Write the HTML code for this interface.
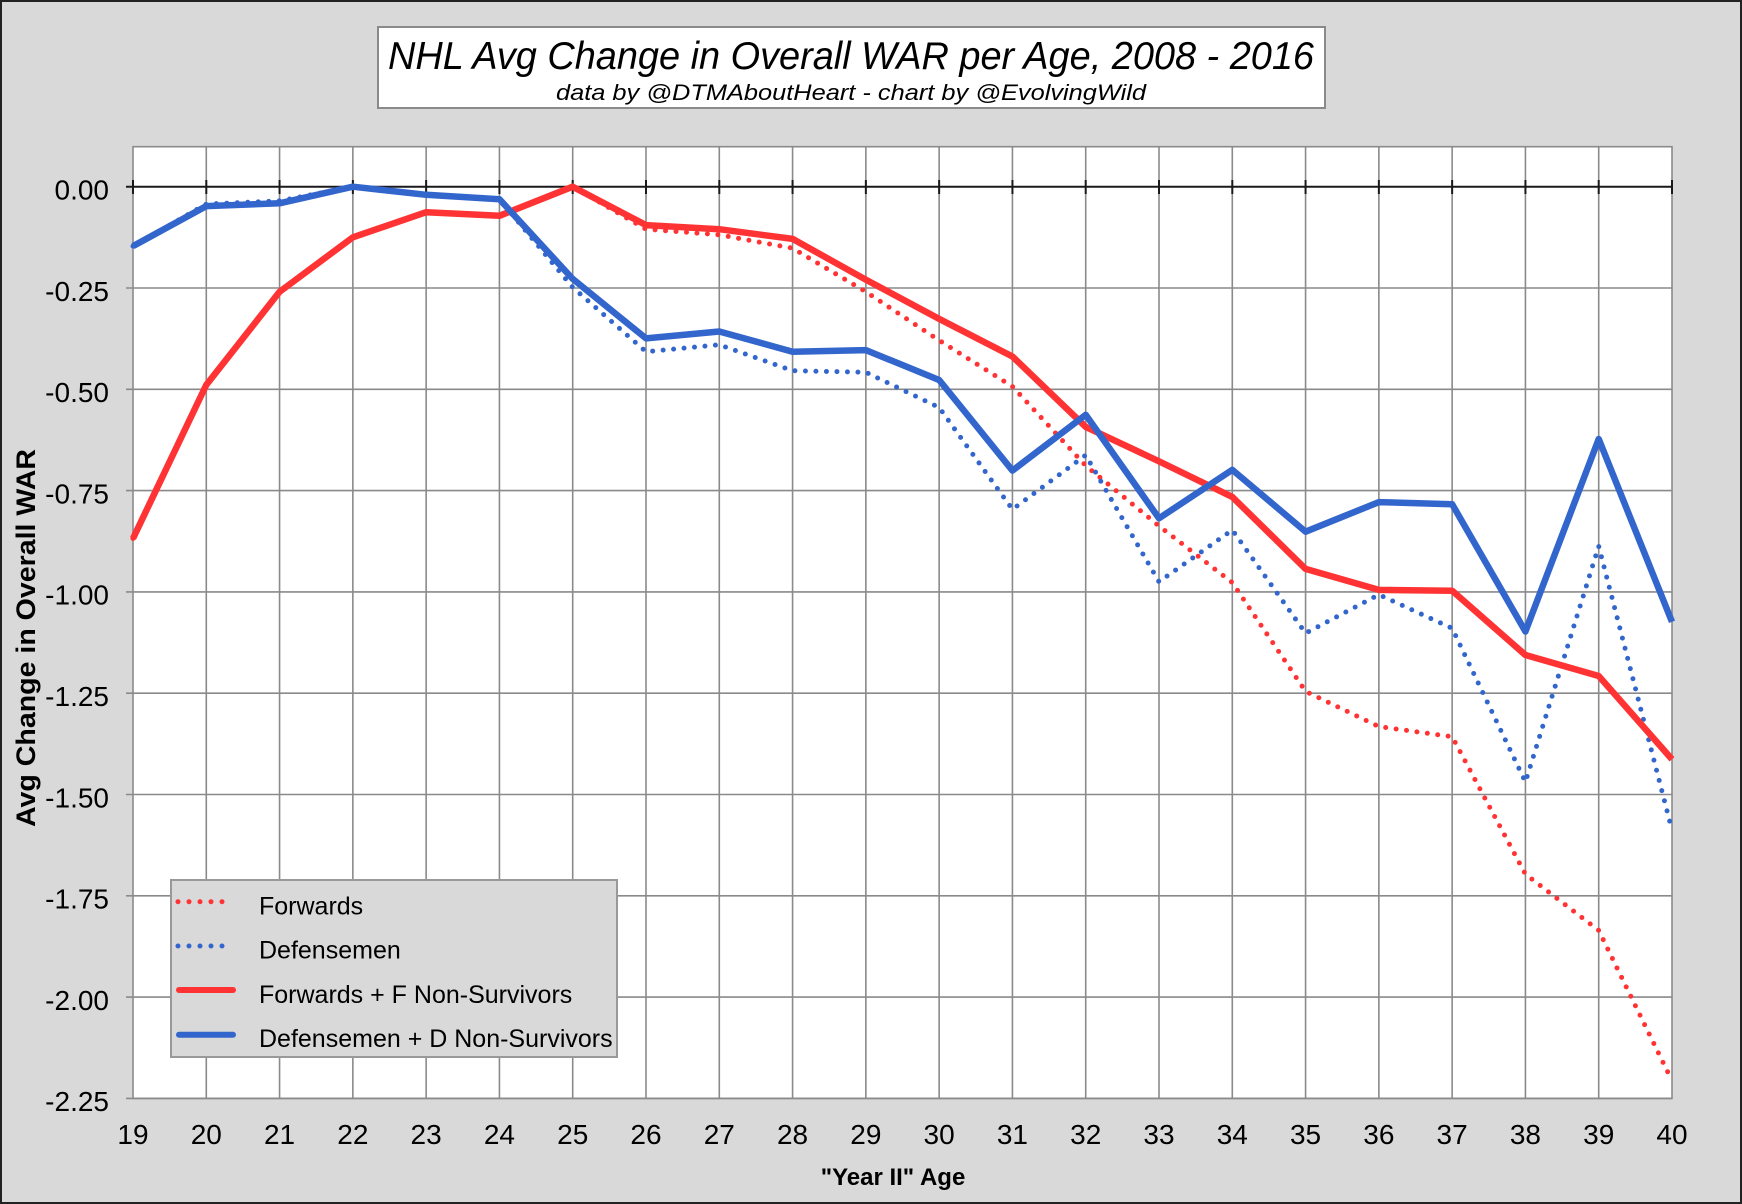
<!DOCTYPE html>
<html><head><meta charset="utf-8"><style>
html,body{margin:0;padding:0;background:#d9d9d9;}
svg{display:block;}
text{font-family:"Liberation Sans",Arial,sans-serif;fill:#000;}
</style></head><body>
<svg width="1742" height="1204" viewBox="0 0 1742 1204" xmlns="http://www.w3.org/2000/svg">
<rect x="1" y="1" width="1740" height="1202" fill="#d9d9d9" stroke="#222" stroke-width="2"/>
<!-- title box -->
<rect x="378" y="27" width="947" height="81" fill="#fff" stroke="#8a8a8a" stroke-width="2"/>
<text x="851" y="69" text-anchor="middle" font-size="39" font-style="italic" textLength="926" lengthAdjust="spacingAndGlyphs">NHL Avg Change in Overall WAR per Age, 2008 - 2016</text>
<text x="851" y="100" text-anchor="middle" font-size="22" font-style="italic" textLength="590" lengthAdjust="spacingAndGlyphs">data by @DTMAboutHeart  -  chart by @EvolvingWild</text>
<!-- plot area -->
<rect x="133" y="146.7" width="1539" height="951.7" fill="#fff"/>
<g stroke="#8a8a8a" stroke-width="1.6">
<line x1="206.29" y1="146.7" x2="206.29" y2="1098.4"/>
<line x1="279.57" y1="146.7" x2="279.57" y2="1098.4"/>
<line x1="352.86" y1="146.7" x2="352.86" y2="1098.4"/>
<line x1="426.14" y1="146.7" x2="426.14" y2="1098.4"/>
<line x1="499.43" y1="146.7" x2="499.43" y2="1098.4"/>
<line x1="572.71" y1="146.7" x2="572.71" y2="1098.4"/>
<line x1="646" y1="146.7" x2="646" y2="1098.4"/>
<line x1="719.29" y1="146.7" x2="719.29" y2="1098.4"/>
<line x1="792.57" y1="146.7" x2="792.57" y2="1098.4"/>
<line x1="865.86" y1="146.7" x2="865.86" y2="1098.4"/>
<line x1="939.14" y1="146.7" x2="939.14" y2="1098.4"/>
<line x1="1012.43" y1="146.7" x2="1012.43" y2="1098.4"/>
<line x1="1085.71" y1="146.7" x2="1085.71" y2="1098.4"/>
<line x1="1159" y1="146.7" x2="1159" y2="1098.4"/>
<line x1="1232.29" y1="146.7" x2="1232.29" y2="1098.4"/>
<line x1="1305.57" y1="146.7" x2="1305.57" y2="1098.4"/>
<line x1="1378.86" y1="146.7" x2="1378.86" y2="1098.4"/>
<line x1="1452.14" y1="146.7" x2="1452.14" y2="1098.4"/>
<line x1="1525.43" y1="146.7" x2="1525.43" y2="1098.4"/>
<line x1="1598.71" y1="146.7" x2="1598.71" y2="1098.4"/>
<line x1="126" y1="288" x2="1672" y2="288"/>
<line x1="126" y1="389.3" x2="1672" y2="389.3"/>
<line x1="126" y1="490.6" x2="1672" y2="490.6"/>
<line x1="126" y1="591.9" x2="1672" y2="591.9"/>
<line x1="126" y1="693.2" x2="1672" y2="693.2"/>
<line x1="126" y1="794.5" x2="1672" y2="794.5"/>
<line x1="126" y1="895.8" x2="1672" y2="895.8"/>
<line x1="126" y1="997.1" x2="1672" y2="997.1"/>
<line x1="126" y1="1098.4" x2="1672" y2="1098.4"/>
<rect x="133" y="146.7" width="1539" height="951.7" fill="none"/>
</g>
<!-- zero line and ticks -->
<g stroke="#1a1a1a" stroke-width="2">
<line x1="126" y1="186.7" x2="1672" y2="186.7"/>
<line x1="133" y1="180" x2="133" y2="194"/>
<line x1="206.29" y1="180" x2="206.29" y2="194"/>
<line x1="279.57" y1="180" x2="279.57" y2="194"/>
<line x1="352.86" y1="180" x2="352.86" y2="194"/>
<line x1="426.14" y1="180" x2="426.14" y2="194"/>
<line x1="499.43" y1="180" x2="499.43" y2="194"/>
<line x1="572.71" y1="180" x2="572.71" y2="194"/>
<line x1="646" y1="180" x2="646" y2="194"/>
<line x1="719.29" y1="180" x2="719.29" y2="194"/>
<line x1="792.57" y1="180" x2="792.57" y2="194"/>
<line x1="865.86" y1="180" x2="865.86" y2="194"/>
<line x1="939.14" y1="180" x2="939.14" y2="194"/>
<line x1="1012.43" y1="180" x2="1012.43" y2="194"/>
<line x1="1085.71" y1="180" x2="1085.71" y2="194"/>
<line x1="1159" y1="180" x2="1159" y2="194"/>
<line x1="1232.29" y1="180" x2="1232.29" y2="194"/>
<line x1="1305.57" y1="180" x2="1305.57" y2="194"/>
<line x1="1378.86" y1="180" x2="1378.86" y2="194"/>
<line x1="1452.14" y1="180" x2="1452.14" y2="194"/>
<line x1="1525.43" y1="180" x2="1525.43" y2="194"/>
<line x1="1598.71" y1="180" x2="1598.71" y2="194"/>
<line x1="1672" y1="180" x2="1672" y2="194"/>
</g>
<!-- series -->
<g fill="none" stroke-linejoin="round">
<polyline stroke="#ff3333" stroke-width="5" stroke-linecap="round" stroke-dasharray="0 10.5" points="133,538.5 206.29,384.9 279.57,291.8 352.86,237.3 426.14,212.2 499.43,215.8 572.71,186.7 646,229.2 719.29,234.8 792.57,248.2 865.86,291.8 939.14,340.4 1012.43,386.5 1085.71,465.7 1159,526 1232.29,582.6 1305.57,691.4 1378.86,726.6 1452.14,736.7 1525.43,874.2 1598.71,930.4 1672,1080.8"/>
<polyline stroke="#3366cc" stroke-width="5" stroke-linecap="round" stroke-dasharray="0 10.5" points="133,246.1 206.29,204.1 279.57,200.9 352.86,186.7 426.14,194.8 499.43,199.2 572.71,287.4 646,351.7 719.29,344.8 792.57,370.7 865.86,372.3 939.14,407.5 1012.43,509.4 1085.71,455.2 1159,581.8 1232.29,530 1305.57,633.2 1378.86,594.7 1452.14,628.3 1525.43,782 1598.71,546.2 1672,830.1"/>
<polyline stroke="#ff3333" stroke-width="6.5" points="133,538.5 206.29,384.9 279.57,291.8 352.86,237.3 426.14,212.2 499.43,215.8 572.71,186.7 646,225.1 719.29,229.2 792.57,238.9 865.86,279.7 939.14,318.9 1012.43,356.5 1085.71,426.9 1159,461.3 1232.29,496.9 1305.57,568.9 1378.86,589.9 1452.14,590.7 1525.43,655 1598.71,676 1672,759.3"/>
<polyline stroke="#3366cc" stroke-width="6.5" points="133,246.1 206.29,206.1 279.57,203.3 352.86,186.7 426.14,194.8 499.43,199.2 572.71,278.9 646,338.4 719.29,331.5 792.57,351.7 865.86,350.1 939.14,380 1012.43,470.6 1085.71,414.8 1159,518.3 1232.29,469.8 1305.57,531.7 1378.86,502.1 1452.14,504.2 1525.43,631.5 1598.71,439 1672,621.8"/>
</g>
<!-- y tick labels -->
<g font-size="28" text-anchor="end">
<text x="109" y="199.5">0.00</text>
<text x="109" y="300.8">-0.25</text>
<text x="109" y="402.1">-0.50</text>
<text x="109" y="503.4">-0.75</text>
<text x="109" y="604.7">-1.00</text>
<text x="109" y="706">-1.25</text>
<text x="109" y="807.3">-1.50</text>
<text x="109" y="908.6">-1.75</text>
<text x="109" y="1009.9">-2.00</text>
<text x="109" y="1111.2">-2.25</text>
</g>
<!-- x tick labels -->
<g font-size="28" text-anchor="middle">
<text x="133" y="1144">19</text>
<text x="206.29" y="1144">20</text>
<text x="279.57" y="1144">21</text>
<text x="352.86" y="1144">22</text>
<text x="426.14" y="1144">23</text>
<text x="499.43" y="1144">24</text>
<text x="572.71" y="1144">25</text>
<text x="646" y="1144">26</text>
<text x="719.29" y="1144">27</text>
<text x="792.57" y="1144">28</text>
<text x="865.86" y="1144">29</text>
<text x="939.14" y="1144">30</text>
<text x="1012.43" y="1144">31</text>
<text x="1085.71" y="1144">32</text>
<text x="1159" y="1144">33</text>
<text x="1232.29" y="1144">34</text>
<text x="1305.57" y="1144">35</text>
<text x="1378.86" y="1144">36</text>
<text x="1452.14" y="1144">37</text>
<text x="1525.43" y="1144">38</text>
<text x="1598.71" y="1144">39</text>
<text x="1672" y="1144">40</text>
</g>
<!-- axis titles -->
<text x="893" y="1185" text-anchor="middle" font-size="24" font-weight="bold">"Year II" Age</text>
<text transform="translate(35,638) rotate(-90)" text-anchor="middle" font-size="27" font-weight="bold" textLength="378" lengthAdjust="spacingAndGlyphs">Avg Change in Overall WAR</text>
<!-- legend -->
<rect x="171" y="880" width="446" height="177" fill="#d9d9d9" stroke="#999" stroke-width="2"/>
<g fill="none">
<line x1="178" y1="901.7" x2="233" y2="901.7" stroke="#ff3333" stroke-width="5" stroke-linecap="round" stroke-dasharray="0 11"/>
<line x1="178" y1="946" x2="233" y2="946" stroke="#3366cc" stroke-width="5" stroke-linecap="round" stroke-dasharray="0 11"/>
<line x1="179" y1="990" x2="233" y2="990" stroke="#ff3333" stroke-width="6" stroke-linecap="round"/>
<line x1="179" y1="1034.7" x2="233" y2="1034.7" stroke="#3366cc" stroke-width="6" stroke-linecap="round"/>
</g>
<g font-size="25">
<text x="259" y="914.3">Forwards</text>
<text x="259" y="958.6">Defensemen</text>
<text x="259" y="1002.9">Forwards + F Non-Survivors</text>
<text x="259" y="1047.2">Defensemen + D Non-Survivors</text>
</g>
</svg>
</body></html>
